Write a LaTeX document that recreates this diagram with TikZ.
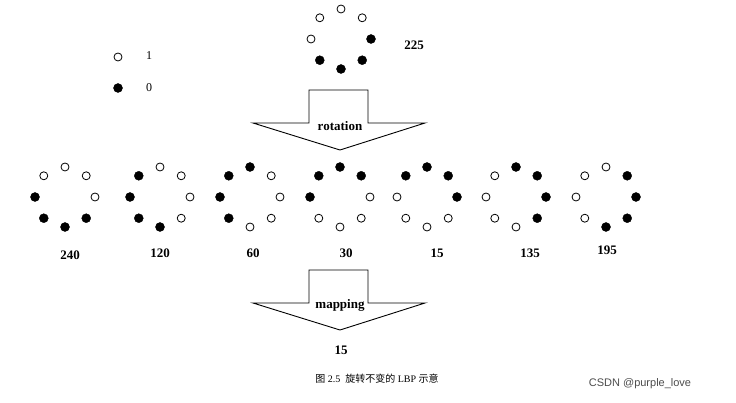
\documentclass[tikz,border=0pt]{standalone}
\usepackage{fontspec}
\setmainfont{Liberation Serif}
\newfontfamily\cjk{Noto Sans CJK SC}
\newfontfamily\wm{Liberation Sans}
\tikzset{
 dot0/.style={circle,draw=black,line width=0.8pt,fill=white,minimum size=8pt,inner sep=0pt},
 dot1/.style={circle,draw=black,fill=black,minimum size=9pt,inner sep=0pt},
 lab/.style={font=\bfseries\fontsize{13}{13}\selectfont},
 arr/.style={draw=black,line width=0.9pt,fill=white},
}
\newcommand\ringdots[3]{%
 \foreach \b [count=\i from 0] in {#3} {
   \node[dot\b] at ({#1+30*sin(\i*45)},{#2-30*cos(\i*45)}) {};
 }}
\newcommand\bigarrow[2]{% center x, top y
 \draw[arr] ({#1-31},{#2+33}) -- ({#1-31},#2) -- ({#1+28},#2) -- ({#1+28},{#2+33})
   -- ({#1+85},{#2+33}) -- (#1,{#2+60}) -- ({#1-87},{#2+33}) -- cycle;}
\begin{document}
\begin{tikzpicture}[x=1pt,y=-1pt]
\useasboundingbox (0,0) rectangle (736,403);
% legend
\node[dot0] (l1) at (118,57) {};
\node[font=\fontsize{12}{12}\selectfont] (t1) at (149,56) {1};
\node[dot1] (l0) at (118,88) {};
\node[font=\fontsize{12}{12}\selectfont] (t0) at (149,88) {0};
% top
\ringdots{341}{39}{0,0,1,1,1,1,0,0}
\node[lab] (n225) at (414,45) {225};
\bigarrow{340}{90}
\node[lab] (rot) at (340,126) {rotation};
% row
\ringdots{65}{197}{0,0,0,1,1,1,1,0}
\ringdots{160}{197}{0,0,0,0,1,1,1,1}
\ringdots{250}{197}{1,0,0,0,0,1,1,1}
\ringdots{340}{197}{1,1,0,0,0,0,1,1}
\ringdots{427}{197}{1,1,1,0,0,0,0,1}
\ringdots{516}{197}{1,1,1,1,0,0,0,0}
\ringdots{606}{197}{0,1,1,1,1,0,0,0}
\node[lab] at (70,255) {240};
\node[lab] at (160,253) {120};
\node[lab] at (253,253) {60};
\node[lab] at (346,253) {30};
\node[lab] at (437,253) {15};
\node[lab] at (530,253) {135};
\node[lab] at (607,250) {195};
\bigarrow{340}{270}
\node[lab] (map) at (340,305) {mapping};
\node[lab] (n15) at (341,350) {15};
\node[font=\fontsize{10}{10}\selectfont] (cap) at (377,379) {{\cjk 图} 2.5\enspace {\cjk 旋转不变的} LBP {\cjk 示意}};
\node[text=black!70,font=\wm\fontsize{11}{11}\selectfont] (wm) at (640,384) {CSDN @purple\_love};
\end{tikzpicture}
\end{document}
